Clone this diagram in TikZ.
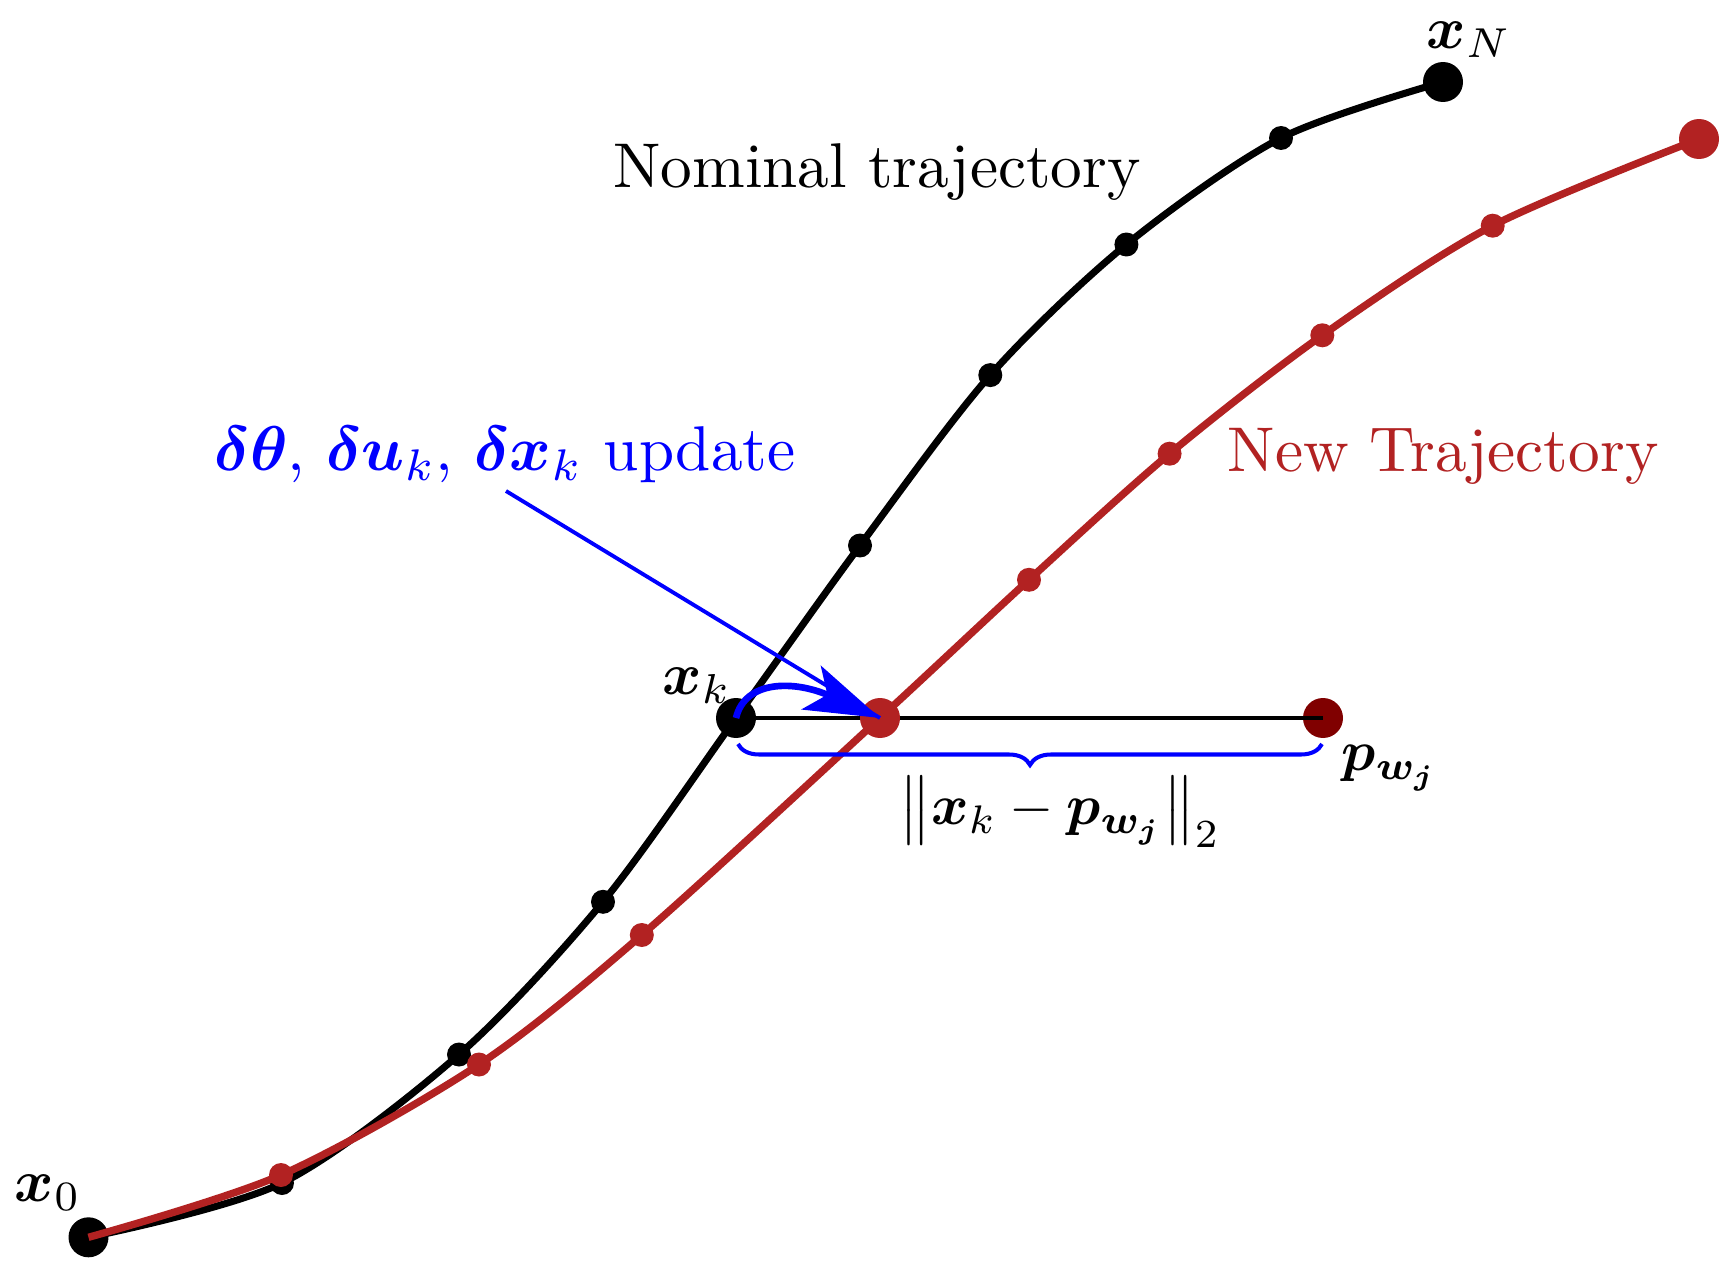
\documentclass[tikz,border=0pt]{standalone}
\usepackage{amsmath,bm}
\usetikzlibrary{arrows.meta,decorations.pathreplacing}
\definecolor{trajred}{RGB}{178,34,34}
\definecolor{pdark}{RGB}{128,0,0}
\definecolor{pureblue}{RGB}{0,0,255}
\begin{document}
\begin{tikzpicture}[x=0.02cm,y=-0.02cm,
  lbl/.style={inner sep=0pt, scale=3.6, transform shape},
  mlbl/.style={inner sep=0pt, scale=3.4, transform shape},
  bigdot/.style={circle, fill, inner sep=0pt, minimum size=0.8cm},
  smalldot/.style={circle, fill, inner sep=0pt, minimum size=0.48cm},
  nomcurve/.style={line width=4pt, black},
  newcurve/.style={line width=4.2pt, trajred}]
\useasboundingbox[fill=white] (0,0) rectangle (1735,1277);
% nominal trajectory points
\coordinate (b0) at (88.5,1237.3);
\coordinate (b1) at (282,1183);
\coordinate (b2) at (459,1054.5);
\coordinate (b3) at (603,901.8);
\coordinate (b4) at (736,718);
\coordinate (b5) at (860,545.5);
\coordinate (b6) at (990.3,375.1);
\coordinate (b7) at (1126.4,244.5);
\coordinate (b8) at (1281,138);
\coordinate (b9) at (1443,82);
% new trajectory points
\coordinate (r1) at (281,1175);
\coordinate (r2) at (479,1064.5);
\coordinate (r3) at (641.8,935);
\coordinate (r4) at (880,718);
\coordinate (r5) at (1029,579.8);
\coordinate (r6) at (1169.6,453.7);
\coordinate (r7) at (1322.3,335.3);
\coordinate (r8) at (1492.7,225.7);
\coordinate (r9) at (1699,139);
\coordinate (pw) at (1323,718);

\draw[nomcurve] plot[smooth] coordinates {(b0) (b1) (b2) (b3) (b4) (b5) (b6) (b7) (b8) (b9)};
\node[bigdot] (x0) at (b0) {};
\foreach \i in {1,2,3,5,6,7,8} \node[smalldot] (nb\i) at (b\i) {};
\node[bigdot] (xk) at (b4) {};
\node[bigdot] (xN) at (b9) {};

\node[bigdot, fill=pdark] (pwj) at (pw) {};
\draw[line width=2.8pt] (xk.center) -- (pwj.center);

\draw[newcurve] plot[smooth] coordinates {(b0) (r1) (r2) (r3) (r4) (r5) (r6) (r7) (r8) (r9)};
\foreach \i in {1,2,3,5,6,7,8} \node[smalldot, fill=trajred] (nr\i) at (r\i) {};
\node[bigdot, fill=trajred] (xnew) at (r4) {};
\node[bigdot, fill=trajred] (rN) at (r9) {};

% labels
\node[mlbl] (lx0) at (48,1193) {$\bm{x}_0$};
\node[mlbl] (lxN) at (1469,40) {$\bm{x}_N$};
\node[mlbl] (lxk) at (697,686) {$\bm{x}_k$};
\node[lbl, scale=0.9] (lpw) at (1390,768) {$\bm{p_{w_j}}$};
\node[lbl] (nom) at (877,172) {Nominal trajectory};
\node[lbl, text=trajred] (newt) at (1443,456) {New Trajectory};
\node[lbl, text=pureblue] (upd) at (505,455) {$\bm{\delta\theta}$, $\bm{\delta u}_k$, $\bm{\delta x}_k$ update};
\node[lbl, scale=0.9] (norm) at (1060,812) {$\left\|\bm{x}_k-\bm{p}_{\bm{w_j}}\right\|_2$};

% blue annotations
\coordinate (ustart) at (506,491);
\draw[pureblue, line width=2.2pt] (ustart) -- (xnew.center);
\draw[pureblue, line width=3.8pt, -{Stealth[length=1.5cm,width=0.95cm,inset=0.35cm]}]
  (xk.center) .. controls (745,680) and (794,680) .. (xnew.center);
\draw[pureblue, line width=2.3pt, decorate, decoration={brace, mirror, amplitude=0.42cm}]
  (738,744) -- (1322,744);
\end{tikzpicture}
\end{document}
